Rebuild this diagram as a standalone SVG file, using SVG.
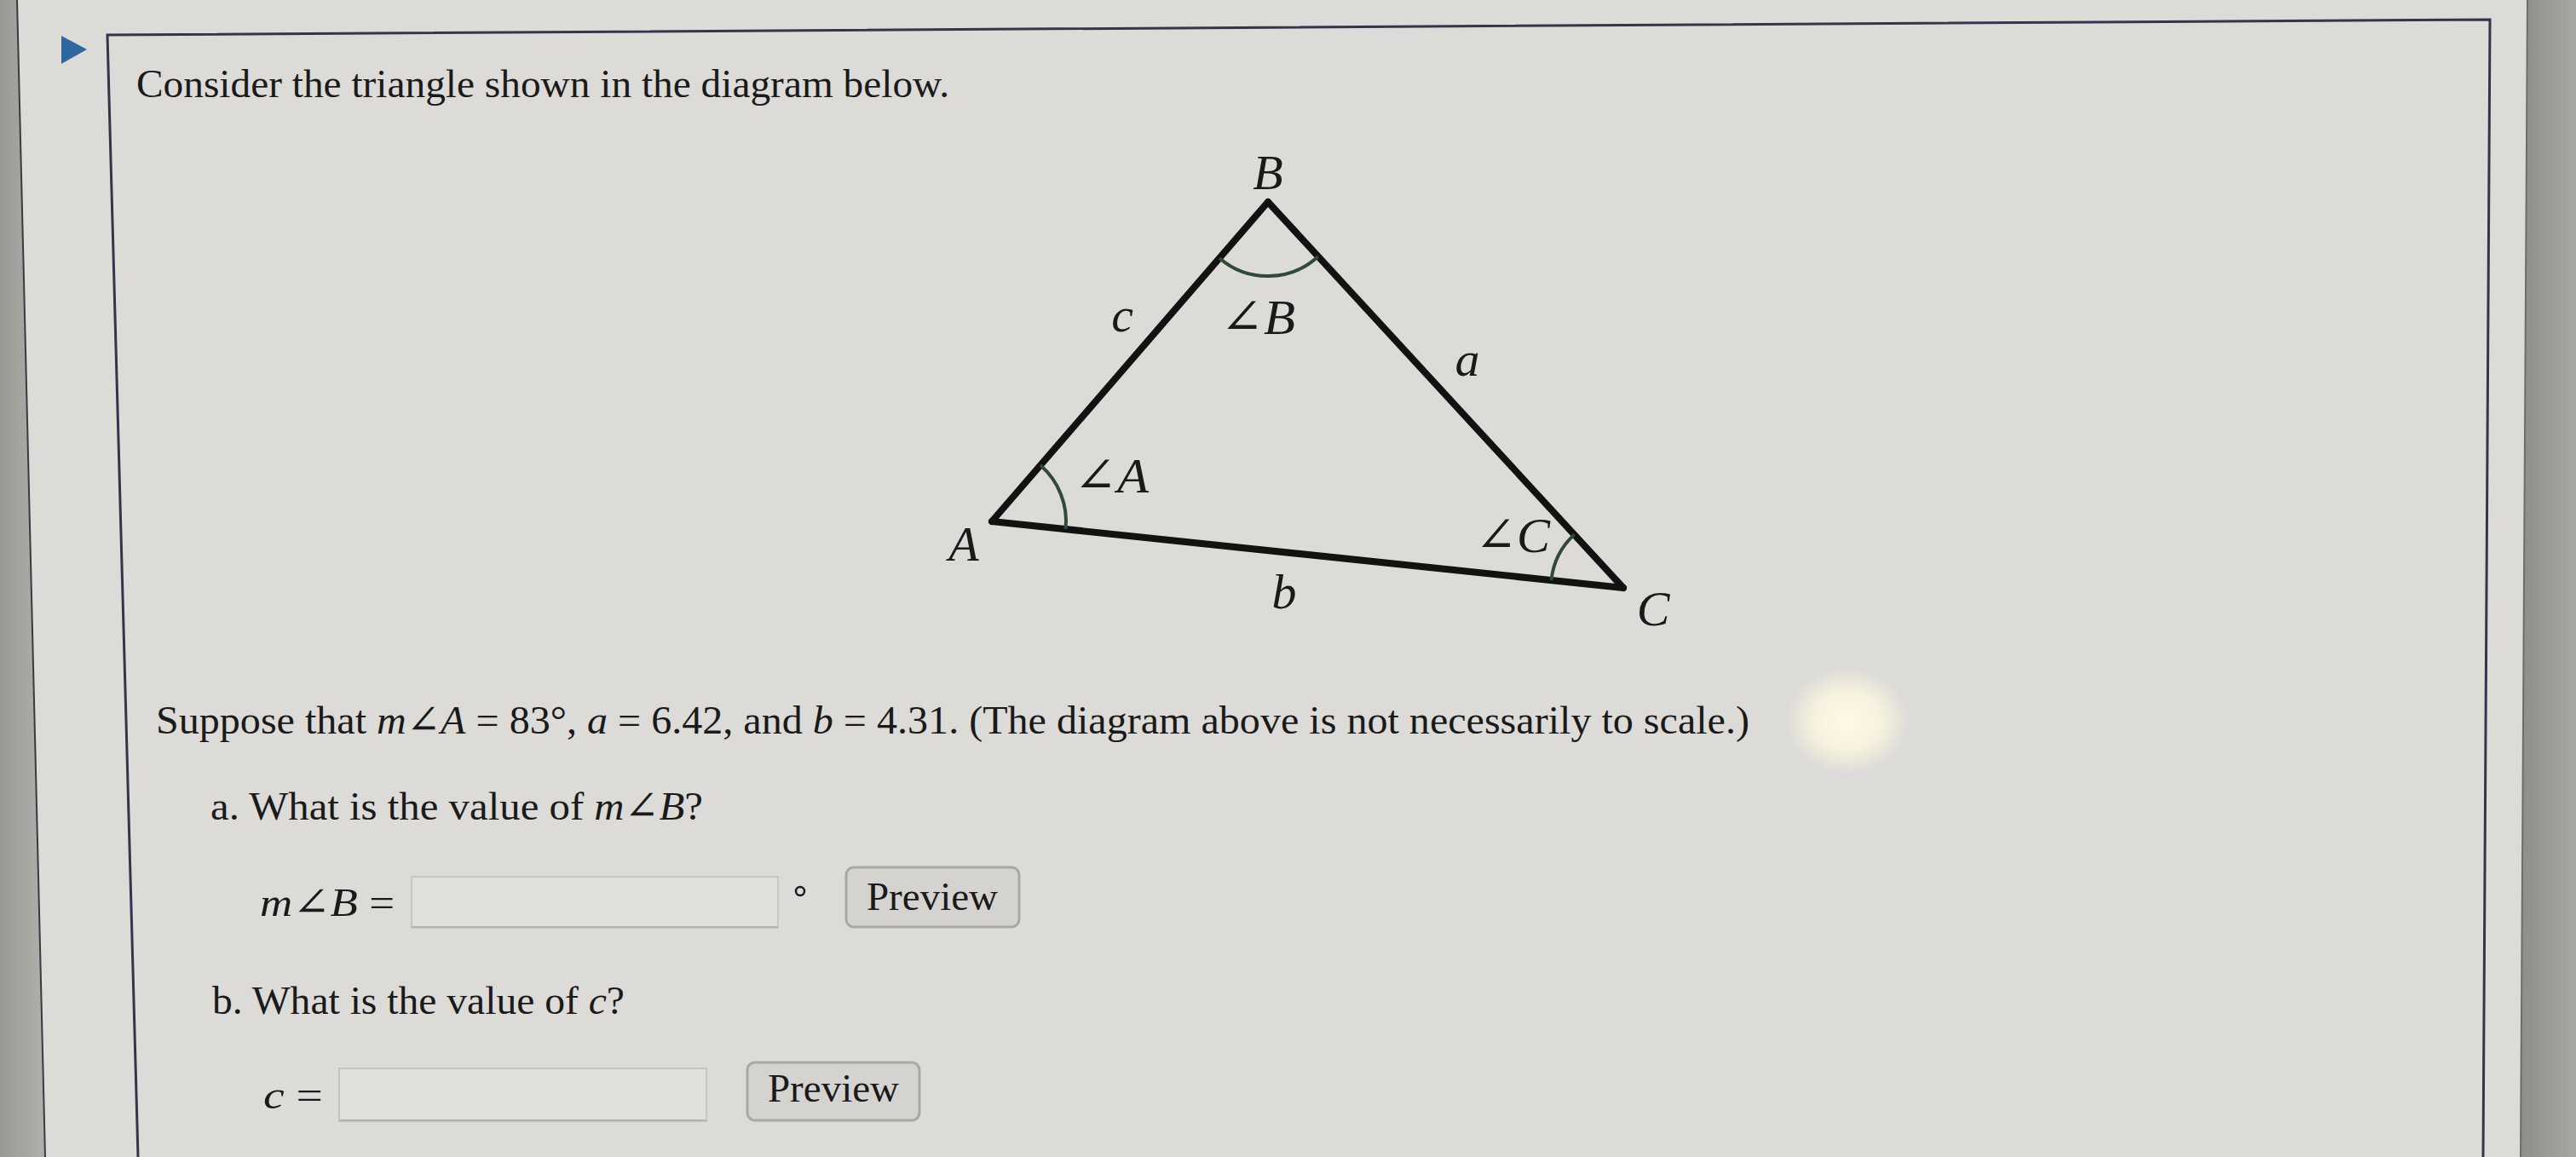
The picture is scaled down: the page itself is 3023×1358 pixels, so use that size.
<svg xmlns="http://www.w3.org/2000/svg" width="3023" height="1358" viewBox="0 0 3023 1358">
<defs>
<style>
.t{font-family:"Liberation Serif","DejaVu Serif",serif;fill:#1a1a1a;font-size:47px}
.i{font-style:italic}
.lbl{font-family:"Liberation Serif","DejaVu Serif",serif;fill:#1a1a1a;font-size:58px;font-style:italic;text-anchor:middle}
.side{stroke:#121212;stroke-width:8;fill:none;stroke-linecap:round}
.arc{stroke:#2f4a36;stroke-width:4;fill:none}
.box{fill:#e0dfdb;stroke:#c6c5c1;stroke-width:2}
.btn{fill:#d4d3cf;stroke:#a9a8a4;stroke-width:3}
.btxt{font-family:"Liberation Serif","DejaVu Serif",serif;fill:#1a1a1a;font-size:47px;text-anchor:middle}
</style>
<linearGradient id="lg" x1="0" y1="0" x2="1" y2="0">
<stop offset="0" stop-color="#9a9995"/><stop offset="1" stop-color="#b0afab"/>
</linearGradient>
<linearGradient id="rg" x1="0" y1="0" x2="1" y2="0">
<stop offset="0" stop-color="#8f8d89"/><stop offset="1" stop-color="#a9a7a3"/>
</linearGradient>
<radialGradient id="glare">
<stop offset="0" stop-color="#fffbe8" stop-opacity="1"/>
<stop offset="0.55" stop-color="#fdf7e0" stop-opacity="0.8"/>
<stop offset="1" stop-color="#fdf7e0" stop-opacity="0"/>
</radialGradient>
</defs>

<g id="background">
<rect x="0" y="0" width="3023" height="1358" fill="#dcdbd7"/>
<polygon points="0,0 20,0 53,1358 0,1358" fill="url(#lg)"/>
<line x1="20" y1="0" x2="53" y2="1358" stroke="#3a3a44" stroke-width="2"/>
<polygon points="2966,0 3023,0 3023,1358 2958,1358" fill="url(#rg)"/>
<line x1="2966" y1="0" x2="2958" y2="1358" stroke="#6e6d6a" stroke-width="2"/>
<polyline points="162,1358 126,41 2922,23 2914,1358" fill="none" stroke="#34344a" stroke-width="3"/>
<polygon points="72,42 102,58 72,75" fill="#2f68a0"/>
<ellipse cx="2168" cy="846" rx="72" ry="62" fill="url(#glare)"/>
</g>

<g id="title">
<text class="t" x="160" y="114" textLength="954" lengthAdjust="spacingAndGlyphs">Consider the triangle shown in the diagram below.</text>
</g>

<g id="connectors">
<line class="side" x1="1164" y1="612" x2="1488" y2="237"/>
<line class="side" x1="1488" y1="237" x2="1905" y2="690"/>
<line class="side" x1="1905" y1="690" x2="1164" y2="612"/>
</g>

<g id="angle-arcs">
<path class="arc" d="M1220.9,546.1 A87,87 0 0 1 1250.5,621.1"/>
<path class="arc" d="M1431.1,302.9 A87,87 0 0 0 1546.9,301.0"/>
<path class="arc" d="M1820.5,681.1 A85,85 0 0 1 1847.5,627.4"/>
</g>

<g id="vertex-B"><text class="lbl" x="1488" y="222">B</text></g>
<g id="vertex-A"><text class="lbl" x="1131" y="658">A</text></g>
<g id="vertex-C"><text class="lbl" x="1940" y="734">C</text></g>
<g id="side-c"><text class="lbl" x="1317" y="389">c</text></g>
<g id="side-a"><text class="lbl" x="1722" y="441">a</text></g>
<g id="side-b"><text class="lbl" x="1507" y="714">b</text></g>
<g id="angle-B"><text class="lbl" x="1476" y="392" textLength="88" lengthAdjust="spacingAndGlyphs">∠B</text></g>
<g id="angle-A"><text class="lbl" x="1304" y="578" textLength="88" lengthAdjust="spacingAndGlyphs">∠A</text></g>
<g id="angle-C"><text class="lbl" x="1775" y="648" textLength="88" lengthAdjust="spacingAndGlyphs">∠C</text></g>

<g id="problem">
<text class="t" x="183" y="861" textLength="1870" lengthAdjust="spacingAndGlyphs">Suppose that <tspan class="i">m</tspan>∠<tspan class="i">A</tspan> = 83°, <tspan class="i">a</tspan> = 6.42, and <tspan class="i">b</tspan> = 4.31. (The diagram above is not necessarily to scale.)</text>
</g>

<g id="question-a">
<text class="t" x="247" y="962" textLength="578" lengthAdjust="spacingAndGlyphs">a. What is the value of <tspan class="i">m</tspan>∠<tspan class="i">B</tspan>?</text>
<text class="t" x="305" y="1075" textLength="158" lengthAdjust="spacingAndGlyphs"><tspan class="i">m</tspan>∠<tspan class="i">B</tspan> =</text>
<rect class="box" x="483" y="1029" width="430" height="60"/>
<line x1="483" y1="1088" x2="913" y2="1088" stroke="#b3b2ae" stroke-width="2"/>
<circle cx="939" cy="1046" r="5" fill="none" stroke="#1a1a1a" stroke-width="2.5"/>
</g>
<g id="preview-1">
<rect class="btn" x="993" y="1018" width="203" height="70" rx="9"/>
<text class="btxt" x="1094" y="1068">Preview</text>
</g>

<g id="question-b">
<text class="t" x="249" y="1190" textLength="484" lengthAdjust="spacingAndGlyphs">b. What is the value of <tspan class="i">c</tspan>?</text>
<text class="t" x="309" y="1301" textLength="70" lengthAdjust="spacingAndGlyphs"><tspan class="i">c</tspan> =</text>
<rect class="box" x="398" y="1254" width="431" height="62"/>
<line x1="398" y1="1315" x2="829" y2="1315" stroke="#b3b2ae" stroke-width="2"/>
</g>
<g id="preview-2">
<rect class="btn" x="877" y="1247" width="202" height="68" rx="9"/>
<text class="btxt" x="978" y="1293">Preview</text>
</g>
</svg>
